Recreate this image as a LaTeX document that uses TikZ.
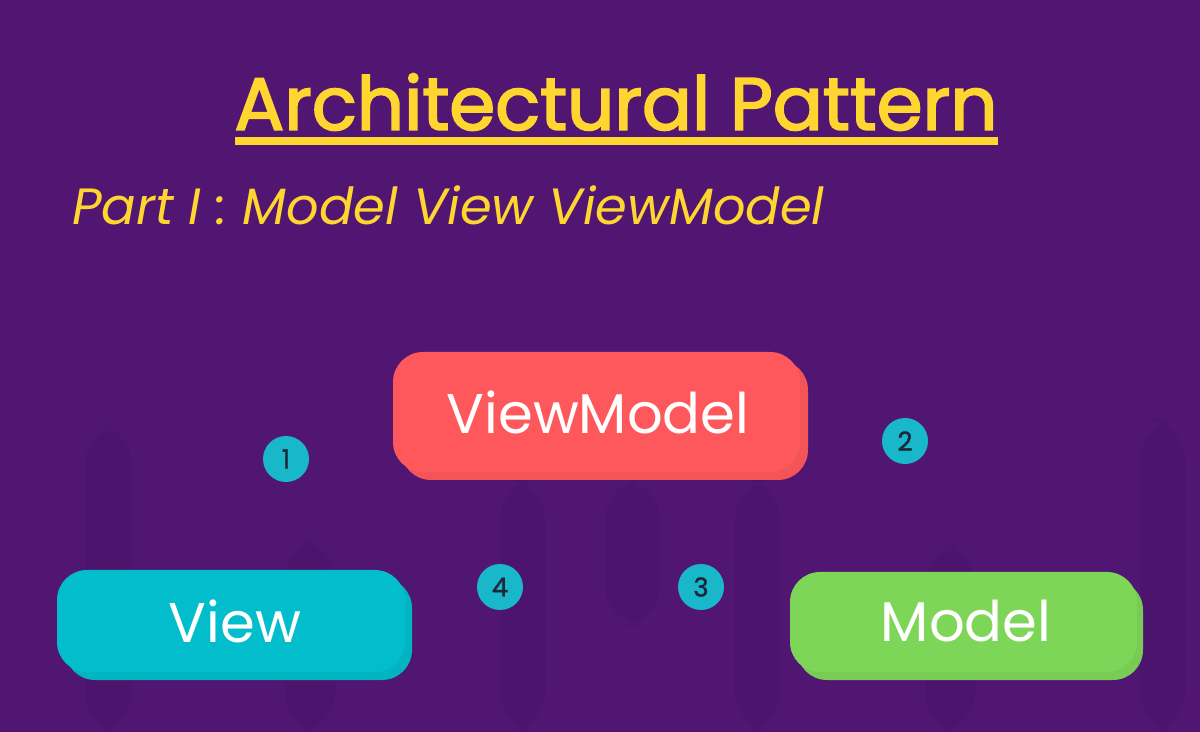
\documentclass[tikz,border=0pt]{standalone}
\usepackage{fontspec}
\setmainfont{Poppins}
\newfontfamily\titlefont{Poppins}[FakeBold=2.4]
\newfontfamily\numfont{Poppins}[FakeBold=1.2]
\definecolor{bgpurple}{RGB}{80,22,114}
\definecolor{bgshade}{RGB}{77,20,109}
\definecolor{titleyellow}{RGB}{255,214,48}
\definecolor{vmred}{RGB}{255,88,92}
\definecolor{viewcyan}{RGB}{2,190,204}
\definecolor{modelgreen}{RGB}{126,214,88}
\definecolor{numteal}{RGB}{24,184,202}
\definecolor{numdark}{RGB}{28,40,58}

\begin{document}
\begin{tikzpicture}[x=0.5pt, y=-0.5pt,
  boxlabel/.style={text=white, font=\fontsize{28}{30}\selectfont},
  numdot/.style={circle, fill=numteal, minimum size=23pt, inner sep=0pt, text=numdark, font=\numfont\fontsize{13}{13}\selectfont}]
\fill [color=bgpurple] (0,0) rectangle (1200,732);
% faint columns behind the boxes
\fill [color=bgshade, rounded corners=20pt] (85,425) rectangle (132,732);
\fill [color=bgshade, rounded corners=20pt] (285,540) rectangle (335,732);
\fill [color=bgshade, rounded corners=20pt] (500,480) rectangle (545,732);
\fill [color=bgshade, rounded corners=20pt] (605,480) rectangle (660,625);
\fill [color=bgshade, rounded corners=20pt] (735,480) rectangle (780,732);
\fill [color=bgshade, rounded corners=20pt] (925,545) rectangle (975,732);
\fill [color=bgshade, rounded corners=20pt] (1140,420) rectangle (1185,732);
% title
\node [text=titleyellow, font=\titlefont\fontsize{37}{39}\selectfont] (title) at (616,102) {Architectural Pattern};
\fill [color=titleyellow] (235,137) rectangle (998,145);
\node [text=titleyellow, anchor=base west, font=\itshape\fontsize{25.5}{28}\selectfont] (subtitle) at (65,225) {Part I : Model View ViewModel};
% boxes
\fill [color=vmred!95!black, rounded corners=15pt] (401,360) rectangle (808,480);
\fill [color=vmred, rounded corners=15pt] (393,352) rectangle (800,472);
\node [boxlabel] (viewmodel) at (598,412) {ViewModel};
\fill [color=viewcyan!95!black, rounded corners=15pt] (65,578) rectangle (412,680);
\fill [color=viewcyan, rounded corners=15pt] (57,570) rectangle (405,672);
\node [boxlabel] (view) at (235,621) {View};
\fill [color=modelgreen!95!black, rounded corners=15pt] (797,580) rectangle (1143,680);
\fill [color=modelgreen, rounded corners=15pt] (790,572) rectangle (1137,672);
\node [boxlabel] (model) at (966,621) {Model};
% step numbers
\node [numdot] (one) at (286,459) {1};
\node [numdot] (two) at (905,441) {2};
\node [numdot] (three) at (701,587) {3};
\node [numdot] (four) at (500,587) {4};
\end{tikzpicture}
\end{document}
